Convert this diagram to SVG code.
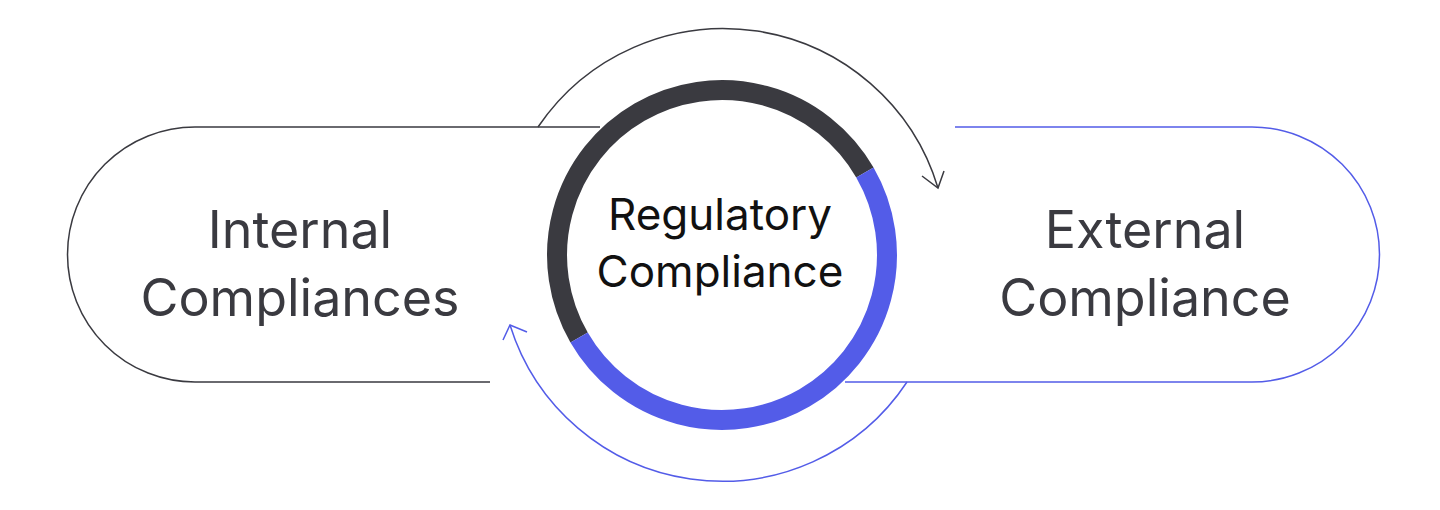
<svg xmlns="http://www.w3.org/2000/svg" width="1440" height="510" viewBox="0 0 1440 510">
<style>
.dk{fill:none;stroke:#3a3a40;stroke-width:1.5}
.bl{fill:none;stroke:#535ce8;stroke-width:1.5}
.t{font-family:Inter,"Liberation Sans",sans-serif;text-anchor:middle}
</style>
<rect width="1440" height="510" fill="#fff"/>
<g id="internal">
<path class="dk" d="M600,127 H195 A127.5,127.5 0 0 0 195,382 H490"/>
<text class="t" x="300" y="248" font-size="52" fill="#3a3a40">Internal</text>
<text class="t" x="300" y="316" font-size="52" fill="#3a3a40">Compliances</text>
</g>
<g id="external">
<path class="bl" d="M955,127 H1252 A127.5,127.5 0 0 1 1252,382 H845"/>
<text class="t" x="1145" y="248" font-size="52" fill="#3a3a40">External</text>
<text class="t" x="1145" y="316" font-size="52" fill="#3a3a40">Compliance</text>
</g>
<g id="connectors">
<path class="dk" d="M538,127 A224,224 0 0 1 938,188"/>
<polyline class="dk" stroke-width="2" points="922,176 938,188 944,171"/>
<path class="bl" d="M907,382 A222,222 0 0 1 510,325"/>
<polyline class="bl" stroke-width="2" points="503,340 510,325 527,332"/>
</g>
<g id="regulatory">
<circle cx="722" cy="255" r="165" fill="#fff"/>
<path d="M579.1,337.5 A165,165 0 0 1 864.9,172.5" fill="none" stroke="#3a3a40" stroke-width="20"/>
<path d="M864.9,172.5 A165,165 0 0 1 579.1,337.5" fill="none" stroke="#535ce8" stroke-width="20"/>
<text class="t" x="720" y="230" font-size="44" fill="#111">Regulatory</text>
<text class="t" x="720" y="287" font-size="44" fill="#111">Compliance</text>
</g>
</svg>
